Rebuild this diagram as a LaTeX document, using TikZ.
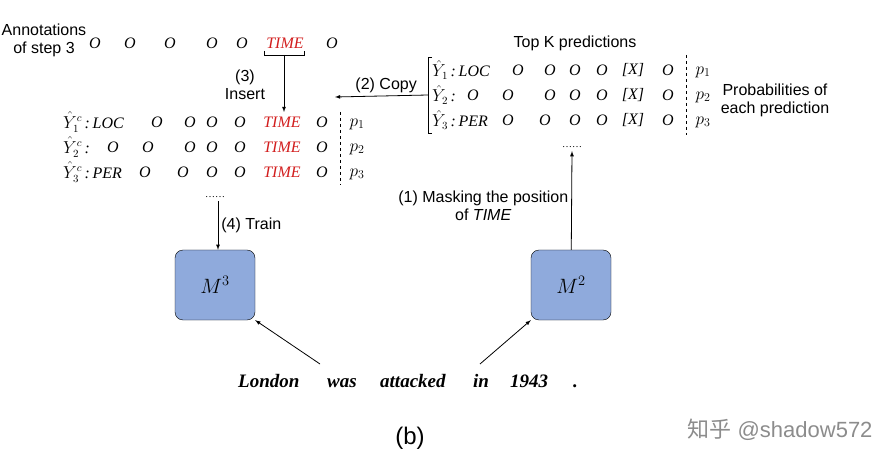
\documentclass[tikz,border=0pt]{standalone}
\usepackage{fontspec}
\setmainfont{Liberation Serif}
\newfontfamily\sans{Liberation Sans}
\newfontfamily\cjk{Noto Sans CJK SC}
\usetikzlibrary{positioning,decorations.pathreplacing}
\definecolor{boxblue}{RGB}{143,170,220}
\definecolor{timered}{RGB}{210,30,30}
\tikzset{
  lbl/.style={font=\sans\fontsize{16}{18}\selectfont, align=center, inner sep=1pt},
  tag/.style={font=\fontsize{16}{18}\selectfont\itshape, inner sep=1pt},
  red tag/.style={tag, text=timered},
  word/.style={font=\fontsize{19}{21}\selectfont\bfseries\itshape, inner sep=0pt, anchor=base west},
  model/.style={draw, fill=boxblue, rounded corners=8pt, minimum width=80pt, minimum height=70pt, font=\fontsize{21}{23}\selectfont},
  prob/.style={font=\fontsize{18}{20}\selectfont, inner sep=1pt},
  arr/.style={-latex, thick},
  sep/.style={dashed, thick}
}
\begin{document}
\begin{tikzpicture}[x=1pt, y=-1pt]
  \useasboundingbox (0,0) rectangle (881,465);
  % annotations of step 3
  \node[lbl] (ann) at (44,40) {Annotations\\of step 3};
  \foreach \x in {95,130,170,212,242,332}
    \node[tag] at (\x,43) {O};
  \node[red tag] (time) at (285,43) {TIME};
  \draw[thick] (264,51) -- (264,55) -- (304,55) -- (304,51);
  \coordinate (brace) at (284,55);
  % candidate rows for M3
  \node[tag, anchor=west] (c1) at (62,122) {$\hat{Y}^c_1$\,:\,LOC};
  \node[tag, anchor=west] (c2) at (62,147) {$\hat{Y}^c_2$\,:};
  \node[tag, anchor=west] (c3) at (62,172) {$\hat{Y}^c_3$\,:\,PER};
  \node[tag] at (113,147) {O};
  \foreach \x in {157,190,212,240} \node[tag] at (\x,122) {O};
  \foreach \x in {148,190,212,240} \node[tag] at (\x,147) {O};
  \foreach \x in {145,183,212,240} \node[tag] at (\x,172) {O};
  \foreach \y/\i in {122/1,147/2,172/3} {
    \node[red tag] at (282,\y) {TIME};
    \node[tag] at (322,\y) {O};
    \node[prob] at (357,\y+2) {$p_\i$};
  }
  \draw[sep] (340,112) -- (340,185);
  \coordinate (ins) at (284,112);
  \coordinate (paste) at (335,97);
  \node[lbl] (insert) at (245,85) {(3)\\Insert};
  \draw[arr] (brace) -- (ins);
  \node (dotsl) at (215,197) {\dots\dots};
  % models
  \node[model] (m3) at (215,285) {$M^3$};
  \node[model] (m2) at (571,285) {$M^2$};
  \draw[arr] (dotsl.south -| 218,0) -- (m3.north -| 218,0) node[lbl, midway, right=2pt] {(4) Train};
  % top K predictions
  \node[lbl] (topk) at (575,43) {Top K predictions};
  \draw[thick] (432,57) -- (428,57) -- (428,133) -- (432,133);
  \coordinate (brk) at (428,95);
  \node[tag, anchor=west] at (431,70) {$\hat{Y}_1$\,:\,LOC};
  \node[tag, anchor=west] at (431,95) {$\hat{Y}_2$\,:};
  \node[tag] at (473,95) {O};
  \node[tag, anchor=west] at (431,120) {$\hat{Y}_3$\,:\,PER};
  \foreach \x in {518,550,575,602} \node[tag] at (\x,70) {O};
  \foreach \x in {508,550,575,602} \node[tag] at (\x,95) {O};
  \foreach \x in {508,545,575,602} \node[tag] at (\x,120) {O};
  \foreach \y/\i in {70/1,95/2,120/3} {
    \node[tag] at (633,\y) {[X]};
    \node[tag] at (668,\y) {O};
    \node[prob] at (703,\y+2) {$p_\i$};
  }
  \draw[sep] (686,55) -- (686,135);
  \node[lbl] (prob) at (775,100) {Probabilities of\\each prediction};
  \draw[arr] (brk) -- (paste) node[lbl, pos=0.45, above=2pt] {(2) Copy};
  \node (dotsr) at (572,147) {\dots\dots};
  \draw[arr] (m2) -- (dotsr.south) node[lbl, pos=0.45, left=2pt] {(1) Masking the position\\of \textit{TIME}};
  % sentence
  \node[word] (london) at (238,387) {London};
  \node[word] (was) at (327,387) {was};
  \node[word] (attacked) at (380,387) {attacked};
  \node[word] (in) at (473,387) {in};
  \node[word] (year) at (510,387) {1943};
  \node[word] (dot) at (573,387) {.};
  \coordinate (sl) at (320,364);
  \coordinate (sr) at (480,364);
  \draw[arr] (sl) -- (m3.south east);
  \draw[arr] (sr) -- (m2.south west);
  \node[font=\sans\fontsize{24}{26}\selectfont] (cap) at (410,438) {(b)};
  \node[font=\sans\fontsize{22}{24}\selectfont, text=black!45] (wm) at (780,430) {{\cjk 知乎} @shadow572};
\end{tikzpicture}
\end{document}
